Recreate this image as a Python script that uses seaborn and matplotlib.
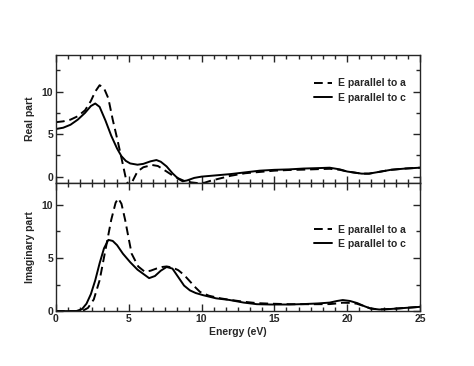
import numpy as np
import pandas as pd
import matplotlib
matplotlib.use('Agg')
import matplotlib.pyplot as plt
from matplotlib.ticker import MultipleLocator, AutoMinorLocator
import seaborn as sns

# values
# real part, E parallel to a (dashed)
real_a_E = [0.0, 0.5, 1.0, 1.5, 2.0, 2.4, 2.7, 3.0, 3.3, 3.6, 3.9, 4.2, 4.5, 4.8, 5.05,
            5.3, 5.6, 6.0, 6.6, 7.0, 7.6, 8.0, 8.4, 8.8, 9.3, 9.8, 10.2, 10.6, 11.3,
            12.0, 13.0, 14.0, 15.0, 16.0, 17.0, 18.0, 18.8, 19.5, 20.0, 21.0, 21.5,
            22.0, 23.0, 24.0, 25.0]
real_a = [6.4, 6.5, 6.7, 7.1, 7.8, 8.9, 10.0, 10.75, 10.4, 9.2, 6.7, 4.5, 2.2, -0.2, -1.3,
          -0.4, 0.6, 1.1, 1.37, 1.25, 0.6, 0.15, -0.2, -0.5, -0.68, -0.77, -0.72, -0.5, -0.2,
          0.1, 0.4, 0.55, 0.7, 0.78, 0.82, 0.88, 0.92, 0.8, 0.6, 0.35, 0.35,
          0.5, 0.8, 0.95, 1.05]

# real part, E parallel to c (solid)
real_c_E = [0.0, 0.5, 1.0, 1.5, 2.0, 2.4, 2.7, 3.0, 3.4, 3.8, 4.2, 4.5, 4.8, 5.1, 5.6,
            6.0, 6.5, 6.9, 7.2, 7.6, 8.0, 8.4, 8.7, 9.0, 9.5, 10.0, 11.0, 12.0, 13.0,
            14.0, 15.0, 16.0, 17.0, 18.0, 18.8, 19.5, 20.0, 21.0, 21.5, 22.0, 23.0,
            24.0, 25.0]
real_c = [5.6, 5.75, 6.1, 6.7, 7.5, 8.3, 8.6, 8.2, 6.6, 4.8, 3.3, 2.4, 1.85, 1.55, 1.4,
          1.5, 1.8, 1.95, 1.75, 1.2, 0.4, -0.25, -0.55, -0.45, -0.15, 0.0, 0.15, 0.3, 0.5,
          0.7, 0.8, 0.85, 0.95, 1.0, 1.05, 0.85, 0.6, 0.35, 0.35, 0.5, 0.8,
          0.95, 1.05]

# imaginary part, E parallel to a (dashed)
imag_a_E = [0.0, 1.8, 2.2, 2.6, 3.0, 3.35, 3.8, 4.1, 4.28, 4.5, 4.75, 5.0, 5.2, 5.65,
            6.1, 6.5, 6.9, 7.3, 7.6, 8.0, 8.4, 8.8, 9.2, 9.6, 9.9, 10.5, 11.3, 12.0,
            12.9, 13.8, 14.7, 16.0, 17.0, 18.0, 18.8, 19.3, 19.7, 20.2, 20.65, 21.2,
            21.6, 22.2, 23.0, 24.0, 25.0]
imag_a = [0.0, 0.0, 0.3, 1.1, 2.9, 5.4, 8.6, 10.2, 10.6, 10.1, 8.6, 6.8, 5.4, 4.2,
          3.7, 3.8, 4.0, 4.15, 4.2, 4.1, 3.85, 3.4, 2.8, 2.2, 1.8, 1.45, 1.2, 1.05,
          0.88, 0.75, 0.7, 0.65, 0.65, 0.65, 0.66, 0.72, 0.79, 0.77, 0.7, 0.45,
          0.25, 0.15, 0.2, 0.3, 0.4]

# imaginary part, E parallel to c (solid)
imag_c_E = [0.0, 1.4, 1.8, 2.1, 2.4, 2.7, 3.0, 3.3, 3.6, 3.9, 4.2, 4.6, 5.1, 5.6, 6.0,
            6.4, 6.8, 7.2, 7.6, 8.0, 8.4, 8.8, 9.2, 9.6, 10.1, 11.0, 11.9, 12.9, 13.8,
            14.7, 16.0, 17.0, 18.0, 18.8, 19.3, 19.7, 20.2, 20.7, 21.2, 21.6, 22.2,
            23.0, 24.0, 25.0]
imag_c = [0.0, 0.0, 0.2, 0.7, 1.6, 2.9, 4.5, 5.9, 6.7, 6.6, 6.2, 5.4, 4.6, 3.9, 3.5,
          3.1, 3.3, 3.8, 4.15, 4.0, 3.2, 2.4, 1.95, 1.7, 1.5, 1.2, 1.05, 0.8, 0.65,
          0.62, 0.62, 0.66, 0.72, 0.8, 0.95, 1.04, 0.95, 0.75, 0.45, 0.25, 0.15,
          0.2, 0.3, 0.4]

labels = ['E parallel to a', 'E parallel to c']

sns.set_style('ticks')
plt.rcParams['font.family'] = ['Liberation Sans', 'DejaVu Sans']
plt.rcParams['font.weight'] = 'bold'
plt.rcParams['axes.labelweight'] = 'bold'

fs = 7.5

fig = plt.figure(figsize=(4.74, 3.66), dpi=100)
ax1 = fig.add_axes([0.118, 0.5, 0.768, 0.3497])
ax2 = fig.add_axes([0.118, 0.15, 0.768, 0.35])

lw = 1.4
dash = (0, (4.5, 2.5))
sns.lineplot(x=real_a_E, y=real_a, ax=ax1, color='black', lw=lw, linestyle=dash, label=labels[0])
sns.lineplot(x=real_c_E, y=real_c, ax=ax1, color='black', lw=lw, label=labels[1])
sns.lineplot(x=imag_a_E, y=imag_a, ax=ax2, color='black', lw=lw, linestyle=dash, label=labels[0])
sns.lineplot(x=imag_c_E, y=imag_c, ax=ax2, color='black', lw=lw, label=labels[1])

ax1.set_ylim(-0.75, 14.3)
ax2.set_ylim(0, 12.05)

for ax, ly in ((ax1, 0.85), (ax2, 0.705)):
    ax.set_xlim(0, 25)
    ax.xaxis.set_major_locator(MultipleLocator(5))
    ax.xaxis.set_minor_locator(AutoMinorLocator(6))
    ax.yaxis.set_major_locator(MultipleLocator(5))
    ax.yaxis.set_minor_locator(MultipleLocator(2.5))
    ax.tick_params(which='both', direction='in', top=True, right=True, labelsize=fs, width=1)
    ax.tick_params(which='major', length=5, pad=2)
    ax.tick_params(which='minor', length=3)
    for s in ax.spines.values():
        s.set_linewidth(1.0)
    for t in ax.get_xticklabels() + ax.get_yticklabels():
        t.set_fontweight('bold')
    ax.legend(loc='upper right', bbox_to_anchor=(0.973, ly), frameon=False, fontsize=fs,
              handlelength=1.7, handletextpad=0.6, labelspacing=0.4, borderaxespad=0)

ax1.tick_params(labelbottom=False)
ax1.set_xlabel('')
ax1.set_ylabel('Real part', fontsize=fs, fontweight='bold', labelpad=5)
ax2.set_ylabel('Imaginary part', fontsize=fs, fontweight='bold', labelpad=5)
ax2.set_xlabel('Energy (eV)', fontsize=fs, fontweight='bold', labelpad=2)

fig.savefig('out.png', dpi=100)
